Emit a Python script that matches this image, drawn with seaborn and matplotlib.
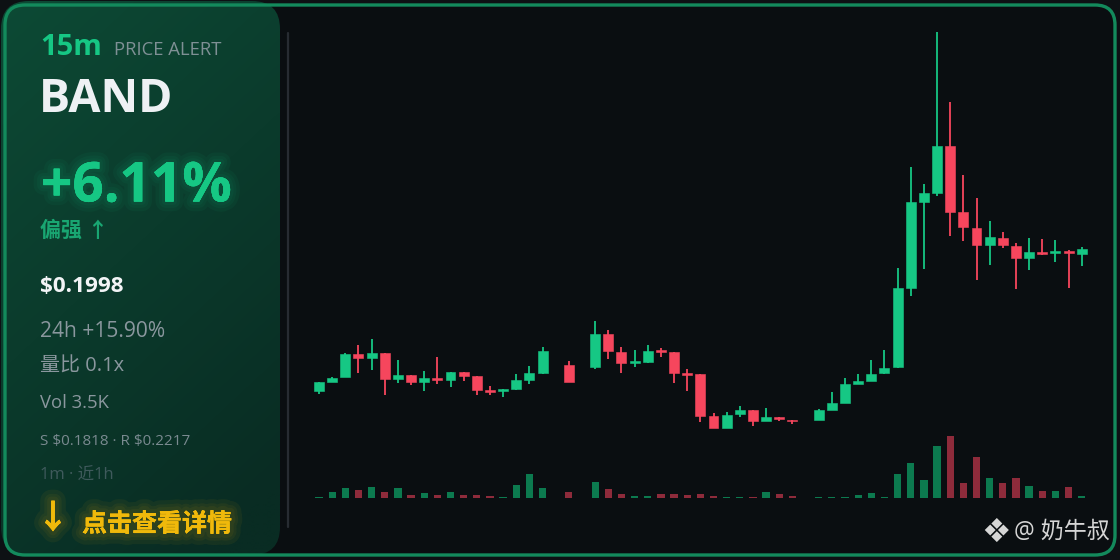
import numpy as np
import pandas as pd
import seaborn as sns
import matplotlib
matplotlib.use("Agg")
import matplotlib.pyplot as plt
from matplotlib.patches import FancyBboxPatch
import matplotlib.patheffects as pe

nan = np.nan

# 1m candles, last ~1h (gaps = no trades)
opens = [0.18566, 0.18653, 0.18700, 0.18930, 0.18893, 0.18940, 0.18683, 0.18726, 0.18653, 0.18696,
         0.18673, 0.18750, 0.18710, 0.18573, 0.18566, 0.18580, 0.18673, 0.18740, nan, 0.18820,
         nan, 0.18800, 0.19133, 0.18956, 0.18840, 0.18856, 0.18970, 0.18950, 0.18746, 0.18730,
         0.18313, 0.18196, 0.18330, 0.18370, 0.18266, 0.18300, 0.18273, nan, 0.18276, 0.18373,
         0.18443, 0.18633, 0.18663, 0.18740, 0.18800, 0.19596, 0.20456, 0.20546, 0.21010, 0.20356,
         0.20196, 0.20023, 0.20096, 0.20016, 0.19896, 0.19950, 0.19946, 0.19960, 0.19936]
closes = [0.18650, 0.18696, 0.18930, 0.18890, 0.18940, 0.18683, 0.18726, 0.18656, 0.18696, 0.18676,
          0.18750, 0.18713, 0.18573, 0.18556, 0.18580, 0.18673, 0.18740, 0.18960, nan, 0.18653,
          nan, 0.19133, 0.18960, 0.18840, 0.18866, 0.18966, 0.18950, 0.18743, 0.18723, 0.18316,
          0.18196, 0.18320, 0.18373, 0.18266, 0.18300, 0.18280, 0.18260, nan, 0.18370, 0.18440,
          0.18630, 0.18660, 0.18736, 0.18796, 0.19590, 0.20453, 0.20543, 0.21010, 0.20356, 0.20203,
          0.20023, 0.20100, 0.20023, 0.19896, 0.19950, 0.19936, 0.19960, 0.19940, 0.19980]
highs = [0.18653, 0.18700, 0.18940, 0.19020, 0.19080, 0.18943, 0.18870, 0.18728, 0.18763, 0.18900,
         0.18753, 0.18753, 0.18713, 0.18613, 0.18583, 0.18733, 0.18813, 0.19000, nan, 0.18860,
         nan, 0.19263, 0.19176, 0.19006, 0.18970, 0.19020, 0.18990, 0.18953, 0.18780, 0.18733,
         0.18340, 0.18353, 0.18413, 0.18373, 0.18393, 0.18303, 0.18276, nan, 0.18383, 0.18550,
         0.18690, 0.18730, 0.18870, 0.18976, 0.19790, 0.20803, 0.20633, 0.22153, 0.21450, 0.20723,
         0.20496, 0.20266, 0.20156, 0.20046, 0.20090, 0.20080, 0.20070, 0.19973, 0.20003]
lows = [0.18533, 0.18650, 0.18700, 0.18740, 0.18770, 0.18520, 0.18640, 0.18623, 0.18563, 0.18633,
        0.18600, 0.18666, 0.18523, 0.18523, 0.18503, 0.18578, 0.18633, 0.18738, nan, 0.18650,
        nan, 0.18786, 0.18886, 0.18740, 0.18800, 0.18846, 0.18900, 0.18640, 0.18563, 0.18256,
        0.18193, 0.18193, 0.18306, 0.18216, 0.18263, 0.18266, 0.18236, nan, 0.18273, 0.18370,
        0.18440, 0.18630, 0.18660, 0.18738, 0.18798, 0.19516, 0.19783, 0.20516, 0.20113, 0.20063,
        0.19673, 0.19823, 0.19990, 0.19583, 0.19773, 0.19923, 0.19850, 0.19590, 0.19813]
volumes = [7, 53, 97, 80, 107, 60, 100, 27, 47, 23,
           60, 27, 23, 17, 7, 127, 237, 100, 0, 53,
           0, 157, 83, 33, 20, 20, 40, 37, 27, 35,
           17, 7, 7, 7, 53, 37, 13, 0, 7, 7,
           7, 27, 47, 10, 237, 350, 180, 517, 617, 147,
           407, 197, 143, 193, 120, 67, 63, 107, 20]

symbol = "BAND"
timeframe = "15m"
change_txt = "+6.11%"
bias_txt = "偏强 ↑"
price_txt = "$0.1998"
info_lines = ["24h +15.90%", "量比 0.1x", "Vol 3.5K"]
sr_txt = "S $0.1818 · R $0.2217"
span_txt = "1m · 近1h"
cta_txt = "点击查看详情"
watermark = "@ 奶牛叔"

UP = "#16c784"
DOWN = "#f6465d"
VOL_UP = "#0c7a4f"
VOL_DOWN = "#8e2b3b"
BG = "#0a0e11"

df = pd.DataFrame({"o": opens, "h": highs, "l": lows, "c": closes, "vol": volumes})
df["i"] = np.arange(len(df))
df["dir"] = np.where(df["c"] >= df["o"], "up", "down")

sns.set_theme(style="dark")
plt.rcParams["font.family"] = ["Open Sans", "Noto Sans CJK SC", "DejaVu Sans"]
plt.rcParams["text.parse_math"] = False

W, H = 1120, 560
fig = plt.figure(figsize=(11.2, 5.6), dpi=100, facecolor="#0d1114")

# background canvas in pixel coords
bg = fig.add_axes([0, 0, 1, 1], zorder=0)
bg.set_xlim(0, W)
bg.set_ylim(H, 0)
bg.axis("off")
bg.set_facecolor("none")

inner = FancyBboxPatch((5, 5), W - 10, H - 10, boxstyle="round,pad=0,rounding_size=20",
                       fc=BG, ec="none", zorder=1)
bg.add_patch(inner)

# left card with gradient
panel = FancyBboxPatch((1, 1), 279, 554, boxstyle="round,pad=0,rounding_size=28",
                       fc="none", ec="none", zorder=2)
bg.add_patch(panel)
gy, gx = np.mgrid[0:1:200j, 0:1:100j]
t = np.clip(0.75 * gy + 0.35 * gx, 0, 1)[..., None]
c_top = np.array([0x0d, 0x4a, 0x35]) / 255
c_bot = np.array([0x09, 0x2c, 0x23]) / 255
grad = c_top * (1 - t) + c_bot * t
im = bg.imshow(grad, extent=(1, 280, 555, 1), origin="upper", aspect="auto", zorder=2,
               interpolation="bilinear")
im.set_clip_path(panel)

border = FancyBboxPatch((5, 5), W - 10, H - 10, boxstyle="round,pad=0,rounding_size=20",
                        fc="none", ec="#138a5c", lw=2.4, zorder=3)
bg.add_patch(border)

# separator
bg.plot([288, 288], [33, 527], color="#272c32", lw=1.6, zorder=3)


def px(p):
    return p * 0.72


def soft_glow(color, widths=(14, 9, 5), alpha=0.05):
    return [pe.withStroke(linewidth=w, foreground=color, alpha=alpha) for w in widths] + [pe.Normal()]


bg.text(40, 55, timeframe, color=UP, fontsize=px(29), fontweight="bold", zorder=5)
bg.text(114, 55, "PRICE ALERT", color="#7f9095", fontsize=px(18.5), zorder=5)
bg.text(39, 111.5, symbol, color="#eef1f4", fontsize=px(46.5), fontweight="bold", zorder=5)
bg.text(41, 201.5, change_txt, color=UP, fontsize=px(55), fontweight="bold", zorder=5,
        path_effects=soft_glow(UP))
bg.text(40, 231, bias_txt, color="#19a672", fontsize=px(21), fontweight="bold", va="center", zorder=5)
bg.text(40, 292, price_txt, color="#f2f4f6", fontsize=px(22.5), fontweight="bold", zorder=5)
for y, s, fs in zip([337, 372, 408], info_lines, [21, 20, 18.5]):
    bg.text(40, y, s, color="#8a979e", fontsize=px(fs), zorder=5)
bg.text(40, 444.5, sr_txt, color="#7a8a90", fontsize=px(15.2), zorder=5)
bg.text(40, 480, span_txt, color="#3f5a5c", fontsize=px(16.5), zorder=5)
glow = soft_glow("#b08a10", widths=(16, 10, 6), alpha=0.08)
bg.text(53, 520, "↓", color="#f0b90b", fontsize=px(33), fontweight="bold", ha="center",
        va="center", zorder=5, path_effects=glow)
bg.text(82, 525, cta_txt, color="#f0b90b", fontsize=px(25), fontweight="bold", va="center",
        zorder=5, path_effects=glow)

# watermark
bg.text(996, 532, "❖", color="#d6d6d6", fontsize=px(33), ha="center", va="center",
        family="DejaVu Sans", zorder=5)
bg.text(1014, 532, watermark, color="#d6d6d6", fontsize=px(23), va="center", zorder=5)

# price axes: pixel x 300..1100, y 20..430
step = 13.15
a = (319 - 300) / step
ax = fig.add_axes([300 / W, (H - 430) / H, 800 / W, 410 / H], zorder=4)
ax.set_xlim(-a, -a + 800 / step)
ax.set_ylim(0.18173, 0.22273)
ax.axis("off")
ax.set_facecolor("none")

valid = df.dropna(subset=["o"])
cols = valid["dir"].map({"up": UP, "down": DOWN})
ax.vlines(valid["i"], valid["l"], valid["h"], colors=cols, lw=1.3, zorder=2)
body_lo = valid[["o", "c"]].min(axis=1)
body_h = (valid["o"] - valid["c"]).abs().clip(lower=0.00014)
ax.bar(valid["i"], body_h, bottom=body_lo, width=0.76, color=cols, edgecolor=cols,
       linewidth=0.4, zorder=3)

# volume axes: baseline y=497.7
axv = fig.add_axes([300 / W, (H - 497.7) / H, 800 / W, 62.7 / H], zorder=4)
vdf = valid[valid["vol"] > 0]
sns.barplot(data=vdf, x="i", y="vol", hue="dir", palette={"up": VOL_UP, "down": VOL_DOWN},
            native_scale=True, dodge=False, width=0.55, saturation=1, errorbar=None,
            legend=False, linewidth=0, edgecolor="none", ax=axv)
axv.set_xlim(-a, -a + 800 / step)
axv.set_ylim(0, 627)
axv.axis("off")
axv.set_facecolor("none")

fig.savefig("out.png", dpi=100, facecolor=fig.get_facecolor())
